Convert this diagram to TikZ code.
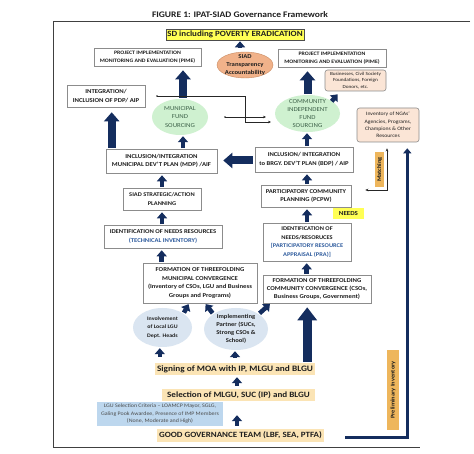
\documentclass[tikz,border=0pt]{standalone}
\usepackage{fontspec}
\setmainfont{Carlito}[FakeStretch=1.12]
\usetikzlibrary{arrows.meta,shapes.geometric}
\definecolor{navy}{HTML}{142D5E}
\definecolor{boxgray}{HTML}{8C8C8C}
\definecolor{txt}{HTML}{1E1E1E}
\definecolor{bluetxt}{HTML}{2F5C9E}
\definecolor{sdyellow}{HTML}{FFFF55}
\definecolor{peach}{HTML}{F1B28A}
\definecolor{peachline}{HTML}{C98B62}
\definecolor{lightpeach}{HTML}{FBE5D6}
\definecolor{lgreen}{HTML}{CFF1D0}
\definecolor{greentxt}{HTML}{3C6048}
\definecolor{lblue}{HTML}{DAE5F1}
\definecolor{critblue}{HTML}{BDD7EE}
\definecolor{tanfill}{HTML}{FBE4B5}
\definecolor{gold}{HTML}{EEB65C}
\newcommand{\fsz}[2]{\fontsize{#1}{#2}\selectfont}
\begin{document}
\begin{tikzpicture}[x=1pt,y=-1pt,
  wh/.style 2 args={minimum width=#1,minimum height=#2},
  box/.style={draw=boxgray,line width=0.6pt,fill=white,inner sep=0pt,align=center,text=txt,font=\fsz{6}{8.4}\bfseries},
  rbox/.style={draw=boxgray,line width=0.6pt,fill=lightpeach,rounded corners=2.5pt,inner sep=0pt,align=center,text=txt},
  fundell/.style={ellipse,fill=lgreen,inner sep=-3pt,align=center,text=greentxt,font=\fsz{6.1}{8.2}},
  partell/.style={ellipse,fill=lblue,inner sep=-3pt,align=center,text=txt,font=\fsz{5.9}{8.1}\bfseries},
  tanbar/.style={fill=tanfill,inner sep=0pt,text=txt,font=\fsz{8.1}{9}\bfseries},
  goldlabel/.style={fill=gold,inner sep=0pt,rotate=90,text=txt,font=\fsz{5.7}{7}\bfseries},
  bigarrow/.style={navy,line width=9pt,-{Triangle[width=19pt,length=13pt]}},
  midarrow/.style={navy,line width=8pt,-{Triangle[width=15pt,length=9pt]}},
  smallarrow/.style={navy,line width=4.5pt,-{Triangle[width=10pt,length=6pt]}},
  thinarrow/.style={black!85,line width=0.6pt,-{Stealth[length=3pt,width=2.6pt]}},
  frameline/.style={black!75,line width=0.8pt}
]
\useasboundingbox (0,0) rectangle (474,454);
\fill[white] (0,0) rectangle (474,454);
% frame
\draw[frameline] (470,21) -- (53,21) -- (53,447) -- (420,447);

% title
\node[font=\fsz{8.5}{10}\bfseries,text=txt] (title) at (240,15) {FIGURE 1: IPAT-SIAD Governance Framework};
\node[draw=black!70,line width=0.6pt,fill=sdyellow,inner sep=0pt,wh={138pt}{11pt},font=\fsz{8}{9}\bfseries,text=txt] (sd) at (235,34.5) {SD including POVERTY ERADICATION};

% top row
\node[box,wh={107pt}{18pt},font=\fsz{5.2}{8.6}\bfseries] (pimeL) at (147.5,57) {PROJECT IMPLEMENTATION\\MONITORING AND EVALUATION (PIME)};
\node[ellipse,fill=peach,draw=peachline,line width=0.4pt,inner sep=-3pt,wh={56pt}{26pt},align=center,text=txt,font=\fsz{6}{8}\bfseries] (siad) at (245,65) {SIAD\\Transparency\\Accountability};
\node[box,wh={108pt}{18pt},font=\fsz{5.2}{8.6}\bfseries] (pimeR) at (332,58) {PROJECT IMPLEMENTATION\\MONITORING AND EVALUATION (PIME)};
\node[rbox,wh={61pt}{21pt},font=\fsz{4.7}{6.3}] (biz) at (355.5,80.5) {Businesses, Civil Society\\Foundations, Foreign\\Donors, etc.};

% fund sourcing row
\node[box,wh={78pt}{22pt}] (pdp) at (106,96) {INTEGRATION/\\INCLUSION OF PDP/ AIP};
\node[fundell,wh={56pt}{36pt}] (mfund) at (180,117) {MUNICIPAL\\FUND\\SOURCING};
\node[fundell,wh={65pt}{37pt}] (cfund) at (307.5,113.5) {COMMUNITY\\INDEPENDENT\\FUND\\SOURCING};
\node[rbox,wh={62pt}{34pt},font=\fsz{5.1}{7.2}] (inv) at (388,125) {Inventory of NGAs'\\Agencies, Programs,\\Champions \& Other\\Resources};

% plans
\node[box,wh={111pt}{24pt}] (mdp) at (161.5,161) {INCLUSION/INTEGRATION\\MUNICIPAL DEV'T PLAN (MDP) /AIF};
\node[box,wh={98pt}{25pt},font=\fsz{5.9}{8.4}\bfseries] (bdp) at (304,159.5) {INCLUSION/ INTEGRATION\\to BRGY. DEV'T PLAN (BDP) / AIP};
\node[box,wh={78pt}{22pt},font=\fsz{5.7}{8.4}\bfseries] (siadplan) at (162,199) {SIAD STRATEGIC/ACTION\\PLANNING};
\node[box,wh={90pt}{22pt},font=\fsz{5.9}{8.4}\bfseries] (pcpw) at (306,196) {PARTICIPATORY COMMUNITY\\PLANNING (PCPW)};
\node[fill=sdyellow,inner sep=0pt,wh={31pt}{11pt},text=txt,font=\fsz{6.2}{8}\bfseries] (needs) at (348.5,213.5) {NEEDS};
\node[box,wh={118pt}{23pt},font=\fsz{5.9}{8.4}\bfseries] (idm) at (163,236.5) {IDENTIFICATION OF NEEDS RESOURCES\\\textcolor{bluetxt}{(TECHNICAL INVENTORY)}};
\node[box,wh={88pt}{38pt},font=\fsz{5.7}{8.5}\bfseries] (idc) at (307,242) {IDENTIFICATION OF\\NEEDS/RESORUCES\\\textcolor{bluetxt}{[PARTICIPATORY RESOURCE}\\\textcolor{bluetxt}{APPRAISAL (PRA)]}};
\node[box,wh={114pt}{40pt},font=\fsz{6}{8.5}\bfseries] (fmc) at (200,283) {FORMATION OF THREEFOLDING\\MUNICIPAL CONVERGENCE\\(Inventory of CSOs, LGU and Business\\Groups and Programs)};
\node[box,wh={108pt}{28pt},font=\fsz{6}{8.4}\bfseries] (fcc) at (317,289) {FORMATION OF THREEFOLDING\\COMMUNITY CONVERGENCE (CSOs,\\Business Groups, Government)};

% partner ellipses
\node[partell,wh={59pt}{39pt},font=\fsz{5.3}{8.2}\bfseries] (lgu) at (162.5,327.5) {Involvement\\of Local LGU\\Dept. Heads};
\node[partell,wh={64pt}{42pt}] (impl) at (236,329) {Implementing\\Partner (SUCs,\\Strong CSOs \&\\School)};

% bottom bars
\node[tanbar,wh={160pt}{12pt},font=\fsz{8.3}{9}\bfseries] (moa) at (235,369) {Signing of MOA with IP, MLGU and BLGU};
\node[tanbar,wh={153pt}{12pt}] (sel) at (238.5,395) {Selection of MLGU, SUC (IP) and BLGU};
\node[fill=critblue,inner sep=0pt,wh={126pt}{24pt},align=center,text=txt!80,font=\fsz{5.3}{7.4}] (crit) at (160,414) {LGU Selection Criteria -- LOAMCP Mayor, SGLG,\\Galing Pook Awardee, Presence of IMP Members\\(None, Moderate and High)};
\node[tanbar,wh={167pt}{13pt},font=\fsz{8}{9}\bfseries] (gg) at (240.5,435.5) {GOOD GOVERNANCE TEAM (LBF, SEA, PTFA)};

% side labels
\node[goldlabel,wh={35pt}{9pt}] (match) at (379.5,169.5) {Matching};
\node[goldlabel,wh={80pt}{12pt}] (prelim) at (393,390) {Preliminary Inventory};

% block arrows
\draw[smallarrow,shorten <=4pt,shorten >=1pt] ([xshift=-5pt]siad.north) -- ([xshift=-5pt]siad.north |- sd.south);
\draw[midarrow,shorten <=1pt,shorten >=4pt] ([xshift=3pt]mfund.north) -- ([xshift=3pt]mfund.north |- pimeL.south);
\draw[midarrow,shorten <=1pt,shorten >=4pt] (cfund.north) -- (cfund.north |- pimeR.south);
\draw[midarrow,shorten <=0.5pt,shorten >=5pt] ([xshift=6pt]mdp.north west) -- ([xshift=6pt]mdp.north west |- pdp.south);
\draw[smallarrow,shorten <=0.5pt,shorten >=1pt] ([xshift=21.5pt]mdp.north) -- ([xshift=21.5pt]mdp.north |- mfund.south);
\draw[midarrow,shorten <=2pt,shorten >=6pt] ([yshift=-1pt]bdp.west) -- ([yshift=-1pt]bdp.west -| mdp.east);
\draw[smallarrow,shorten <=0.5pt,shorten >=1pt] ([xshift=3pt]bdp.north) -- ([xshift=3pt]bdp.north |- cfund.south);
\draw[smallarrow,shorten <=0.5pt,shorten >=2pt] (siadplan.north) -- (siadplan.north |- mdp.south);
\draw[smallarrow,shorten <=0.5pt,shorten >=2pt] ([xshift=-1pt]idm.north) -- ([xshift=-1pt]idm.north |- siadplan.south);
\draw[smallarrow,shorten <=0.5pt,shorten >=2pt] ([xshift=19pt]fmc.north west) -- ([xshift=19pt]fmc.north west |- idm.south);
\draw[smallarrow,shorten <=0.5pt,shorten >=2pt] ([xshift=1pt]pcpw.north) -- ([xshift=1pt]pcpw.north |- bdp.south);
\draw[smallarrow,shorten <=0.5pt,shorten >=2pt] (idc.north) -- (idc.north |- pcpw.south);
\draw[smallarrow,shorten <=0.5pt,shorten >=2pt] ([xshift=44pt]fcc.north west) -- ([xshift=44pt]fcc.north west |- idc.south);
\draw[bigarrow,shorten <=1pt,shorten >=4pt] ([xshift=-8pt]moa.north east) -- ([xshift=-8pt]moa.north east |- fcc.south);
\draw[smallarrow,shorten <=6pt,shorten >=1pt] ([xshift=5pt]moa.north west) -- ([xshift=5pt]moa.north west |- lgu.south);
\draw[smallarrow,shorten <=6pt,shorten >=1pt] (moa.north) -- (moa.north |- impl.south);
\draw[smallarrow,shorten <=1pt,shorten >=1pt] (lgu.north east) -- ([xshift=-11pt]fmc.south);
\draw[smallarrow,shorten <=1pt,shorten >=1pt] (impl.north west) -- ([xshift=5pt]fmc.south);
\draw[smallarrow,shorten <=1pt,shorten >=1pt] (impl.north east) -- ([xshift=8pt]fcc.south west);
\draw[smallarrow,shorten <=3pt,shorten >=2pt] ([xshift=-1.5pt]sel.north) -- ([xshift=-1.5pt]sel.north |- moa.south);
\draw[smallarrow,shorten <=3pt,shorten >=14pt] ([xshift=-3.5pt]gg.north) -- ([xshift=-3.5pt]gg.north |- sel.south);
\draw[smallarrow] ([xshift=7pt,yshift=-10pt]biz.south west) -- ([xshift=13pt,yshift=-3pt]biz.south west);

% thin connectors
\coordinate (l1a) at (157,96);
\coordinate (l1b) at (245,96);
\coordinate (l1c) at (245,122);
\coordinate (l1d) at (271,122);
\fill[black!85] (l1a) circle (0.9pt);
\draw[thinarrow] (l1a) -- (l1b) -- (l1c) -- (l1d);
\coordinate (l2a) at (225,117);
\coordinate (l2b) at (266,117);
\fill[black!85] (l2a) circle (0.9pt);
\draw[thinarrow] (l2a) -- (l2b);
\draw[thinarrow,{Stealth[length=3pt,width=2.6pt]}-{Stealth[length=3pt,width=2.6pt]},shorten >=6pt] ([xshift=14pt,yshift=6pt]pcpw.east) -| ([xshift=-1pt]inv.south);
% preliminary inventory line
\draw[navy,line width=3pt,-{Triangle[width=8pt,length=5pt]},shorten >=6pt] ([xshift=21pt,yshift=-1.5pt]gg.east) -| ([xshift=-12pt]inv.south east);
\end{tikzpicture}
\end{document}
